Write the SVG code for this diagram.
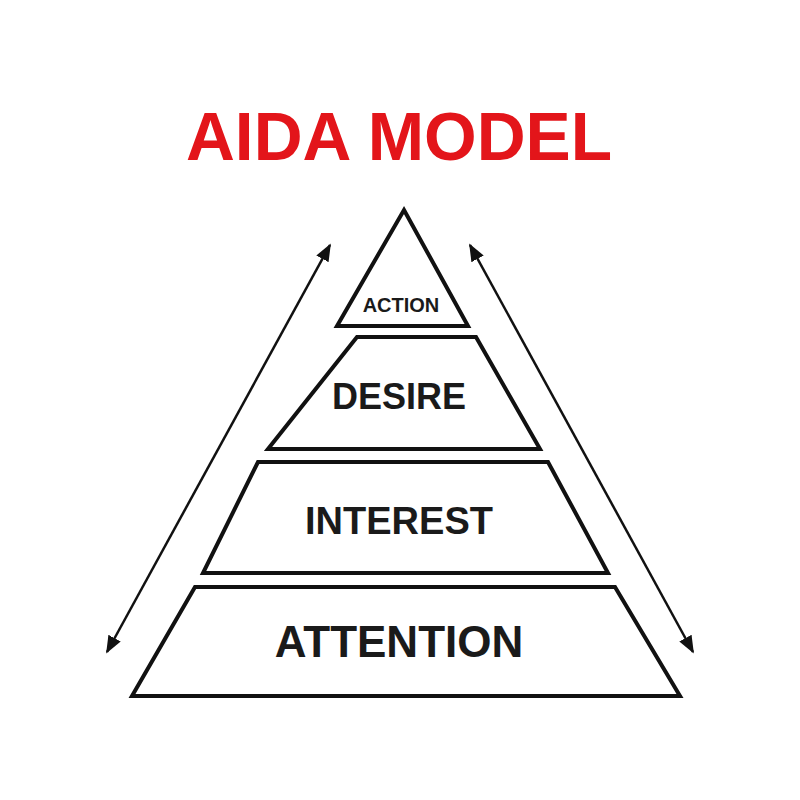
<svg xmlns="http://www.w3.org/2000/svg" width="800" height="800" viewBox="0 0 800 800">
<style>
.s{fill:#fff;stroke:#111;stroke-width:4;stroke-linejoin:miter}
.t{font-family:"Liberation Sans",Arial,sans-serif;font-weight:bold;fill:#1a1a1a;text-anchor:middle}
.c{stroke:#111;stroke-width:2.5;fill:none}
</style>
<defs>
<marker id="a" viewBox="0 0 10 10" refX="9" refY="5" markerWidth="7" markerHeight="7" orient="auto-start-reverse"><path d="M0,1 L10,5 L0,9 Z" fill="#111"/></marker>
</defs>
<rect width="800" height="800" fill="#fff"/>
<text x="399" y="160" font-family="Liberation Sans,Arial,sans-serif" font-weight="bold" font-size="68" fill="#e3151a" text-anchor="middle" textLength="426" lengthAdjust="spacingAndGlyphs">AIDA MODEL</text>
<g id="connectors">
<line class="c" x1="107" y1="652" x2="330" y2="245" marker-start="url(#a)" marker-end="url(#a)"/>
<line class="c" x1="470" y1="245" x2="693" y2="652" marker-start="url(#a)" marker-end="url(#a)"/>
</g>
<g id="action"><polygon class="s" points="404,210 468,326 337,326"/><text class="t" x="401" y="312" font-size="20">ACTION</text></g>
<g id="desire"><polygon class="s" points="357,337 476,337 540,449 268,449"/><text class="t" x="399" y="409" font-size="36">DESIRE</text></g>
<g id="interest"><polygon class="s" points="258,462 548,462 608,573 203,573"/><text class="t" x="399" y="534" font-size="38">INTEREST</text></g>
<g id="attention"><polygon class="s" points="195,587 615,587 680,696 132,696"/><text class="t" x="399" y="657" font-size="44">ATTENTION</text></g>
</svg>
